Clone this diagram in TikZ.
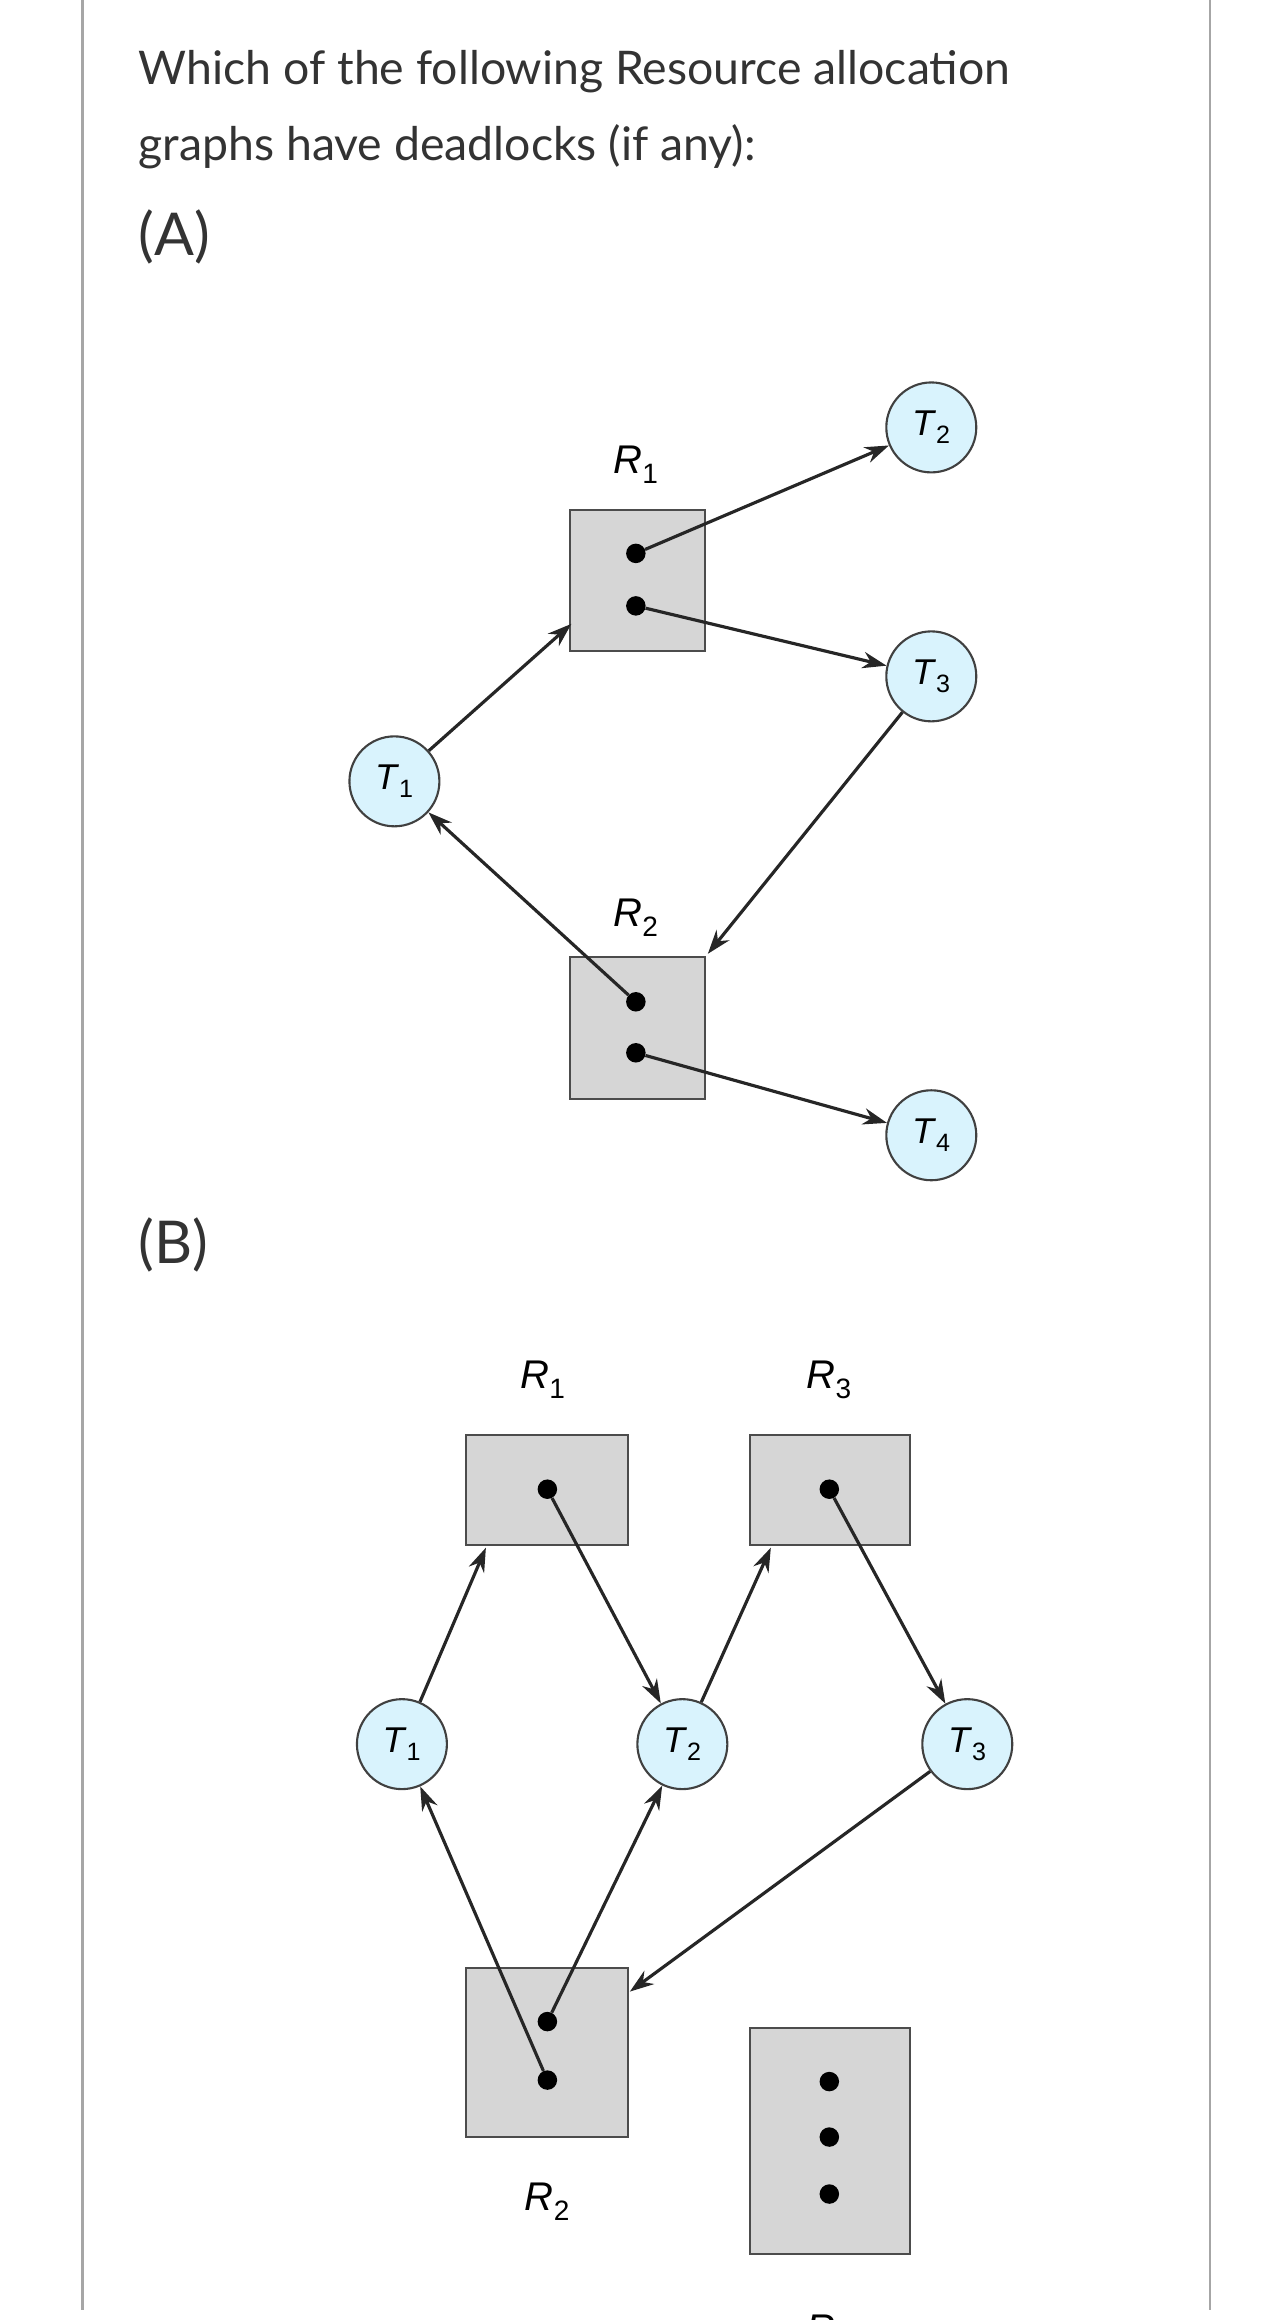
\documentclass[tikz,border=0pt]{standalone}
\usepackage{fontspec}
\setmainfont{Lato}
\newfontfamily\lblfont{Liberation Sans}
\usetikzlibrary{arrows.meta}
\newcommand{\lab}[2]{\textit{#1}\textsubscript{#2}}
\tikzset{
  proc/.style={circle,draw=black!75,line width=2pt,fill=cyan!15,minimum size=3cm,inner sep=0pt,font=\lblfont\fontsize{34}{36}\selectfont},
  res/.style={draw=black!70,line width=2pt,fill=black!16,inner sep=0pt},
  dot/.style={circle,fill=black,inner sep=0pt,minimum size=0.65cm},
  edge/.style={line width=3pt,black!85,-{Stealth[length=0.8cm,width=0.55cm]}},
  lbl/.style={font=\lblfont\fontsize{38}{40}\selectfont},
  head/.style={anchor=west,font=\fontsize{44}{50}\selectfont,black!80},
}
\begin{document}
\begin{tikzpicture}[x=0.05cm,y=-0.05cm]
	\useasboundingbox (0,0) rectangle (856,1547);
	\clip (0,0) rectangle (856,1547);
	\draw[black!35,line width=2pt] (55,0) -- (55,1540);
	\draw[black!35,line width=2pt] (807,0) -- (807,1540);
	\node[head] at (90,48) {Which of the following Resource allocation};
	\node[head] at (90,98) {graphs have deadlocks (if any):};
	\node[head,font=\fontsize{56}{60}\selectfont] at (90,158) {(A)};
	\node[head,font=\fontsize{56}{60}\selectfont] at (90,830) {(B)};

	% graph A
	\draw[res] (380,340) rectangle (470,434);
	\draw[res] (380,638) rectangle (470,733);
	\node[dot] (a11) at (424,369) {};
	\node[dot] (a12) at (424,404) {};
	\node[dot] (a21) at (424,668) {};
	\node[dot] (a22) at (424,702) {};
	\coordinate (ar1) at (381,416);
	\coordinate (ar2) at (472,636);
	\node[lbl] at (424,310) {\lab{R}{1}};
	\node[lbl] at (424,612) {\lab{R}{2}};
	\node[proc] (at1) at (263,521) {\lab{T}{1}};
	\node[proc] (at2) at (621,285) {\lab{T}{2}};
	\node[proc] (at3) at (621,451) {\lab{T}{3}};
	\node[proc] (at4) at (621,757) {\lab{T}{4}};
	\draw[edge] (a11) -- (at2);
	\draw[edge] (a12) -- (at3);
	\draw[edge] (at1) -- (ar1);
	\draw[edge] (a21) -- (at1);
	\draw[edge] (at3) -- (ar2);
	\draw[edge] (a22) -- (at4);

	% graph B
	\draw[res] (311,957) rectangle (419,1030);
	\draw[res] (500,957) rectangle (607,1030);
	\draw[res] (311,1312) rectangle (419,1425);
	\draw[res] (500,1352) rectangle (607,1503);
	\node[dot] (b1) at (365,993) {};
	\node[dot] (b3) at (553,993) {};
	\node[dot] (b21) at (365,1348) {};
	\node[dot] (b22) at (365,1387) {};
	\node[dot] (b41) at (553,1388) {};
	\node[dot] (b42) at (553,1425) {};
	\node[dot] (b43) at (553,1463) {};
	\coordinate (br1) at (324,1032);
	\coordinate (br3) at (514,1032);
	\coordinate (br2) at (420,1328);
	\node[lbl] at (362,920) {\lab{R}{1}};
	\node[lbl] at (553,920) {\lab{R}{3}};
	\node[lbl] at (365,1468) {\lab{R}{2}};
	\node[lbl] at (553,1556) {\lab{R}{4}};
	\node[proc] (bt1) at (268,1163) {\lab{T}{1}};
	\node[proc] (bt2) at (455,1163) {\lab{T}{2}};
	\node[proc] (bt3) at (645,1163) {\lab{T}{3}};
	\draw[edge] (bt1) -- (br1);
	\draw[edge] (b1) -- (bt2);
	\draw[edge] (bt2) -- (br3);
	\draw[edge] (b3) -- (bt3);
	\draw[edge] (bt3) -- (br2);
	\draw[edge] (b21) -- (bt2);
	\draw[edge] (b22) -- (bt1);
\end{tikzpicture}
\end{document}
